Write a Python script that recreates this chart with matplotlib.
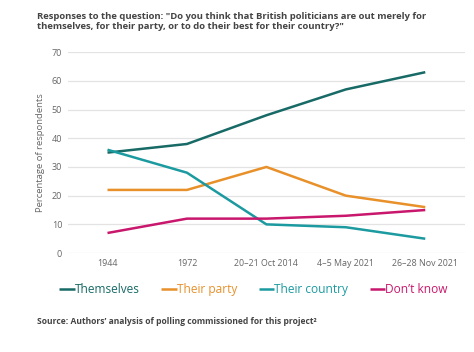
import matplotlib
matplotlib.use('Agg')
import matplotlib.pyplot as plt

# ── Data ────────────────────────────────────────────────────────────────
dates = ['1944', '1972', '20–21 Oct 2014', '4–5 May 2021', '26–28 Nov 2021']
themselves = [35, 38, 48, 57, 63]
their_party = [22, 22, 30, 20, 16]
their_country = [36, 28, 10, 9, 5]
dont_know = [7, 12, 12, 13, 15]

series = [
    ('Themselves', themselves, '#176a66'),
    ('Their party', their_party, '#e8902a'),
    ('Their country', their_country, '#1b9aa0'),
    ('Don’t know', dont_know, '#c8176c'),
]

plt.rcParams['font.family'] = ['Open Sans', 'DejaVu Sans']

fig = plt.figure(figsize=(4.74, 3.52), dpi=100, facecolor='white')
ax = fig.add_axes([0.143, 0.281, 0.838, 0.571])

x = range(len(dates))
for name, vals, c in series:
    ax.plot(x, vals, color=c, lw=1.8, label=name, solid_capstyle='butt')

ax.set_xlim(-0.5, 4.5)
ax.set_ylim(0, 70)
ax.set_yticks(range(0, 71, 10))
ax.grid(axis='y', color='#e3e3e3', lw=0.9)
ax.set_axisbelow(True)
for sp in ax.spines.values():
    sp.set_visible(False)
ax.tick_params(length=0, colors='#666666', labelsize=6.5, pad=4)
ax.set_xticks(list(x))
ax.set_xticklabels(dates, fontsize=6.4, color='#666666')
ax.set_ylabel('Percentage of respondents', fontsize=6.8, color='#666666', labelpad=5)

fig.text(0.078, 0.966,
         'Responses to the question: "Do you think that British politicians are out merely for\n'
         'themselves, for their party, or to do their best for their country?"',
         fontsize=6.8, fontweight='bold', color='#444444', va='top', linespacing=1.2)

leg = fig.legend(loc='center', bbox_to_anchor=(0.535, 0.178), ncol=4, frameon=False,
                 fontsize=8.6, labelcolor='linecolor', handlelength=1.3,
                 handletextpad=0.0, columnspacing=1.8)

fig.text(0.078, 0.088, 'Source: Authors’ analysis of polling commissioned for this project²',
         fontsize=6.1, fontweight='bold', color='#444444', va='center')

fig.savefig('out.png', dpi=100, facecolor='white')
